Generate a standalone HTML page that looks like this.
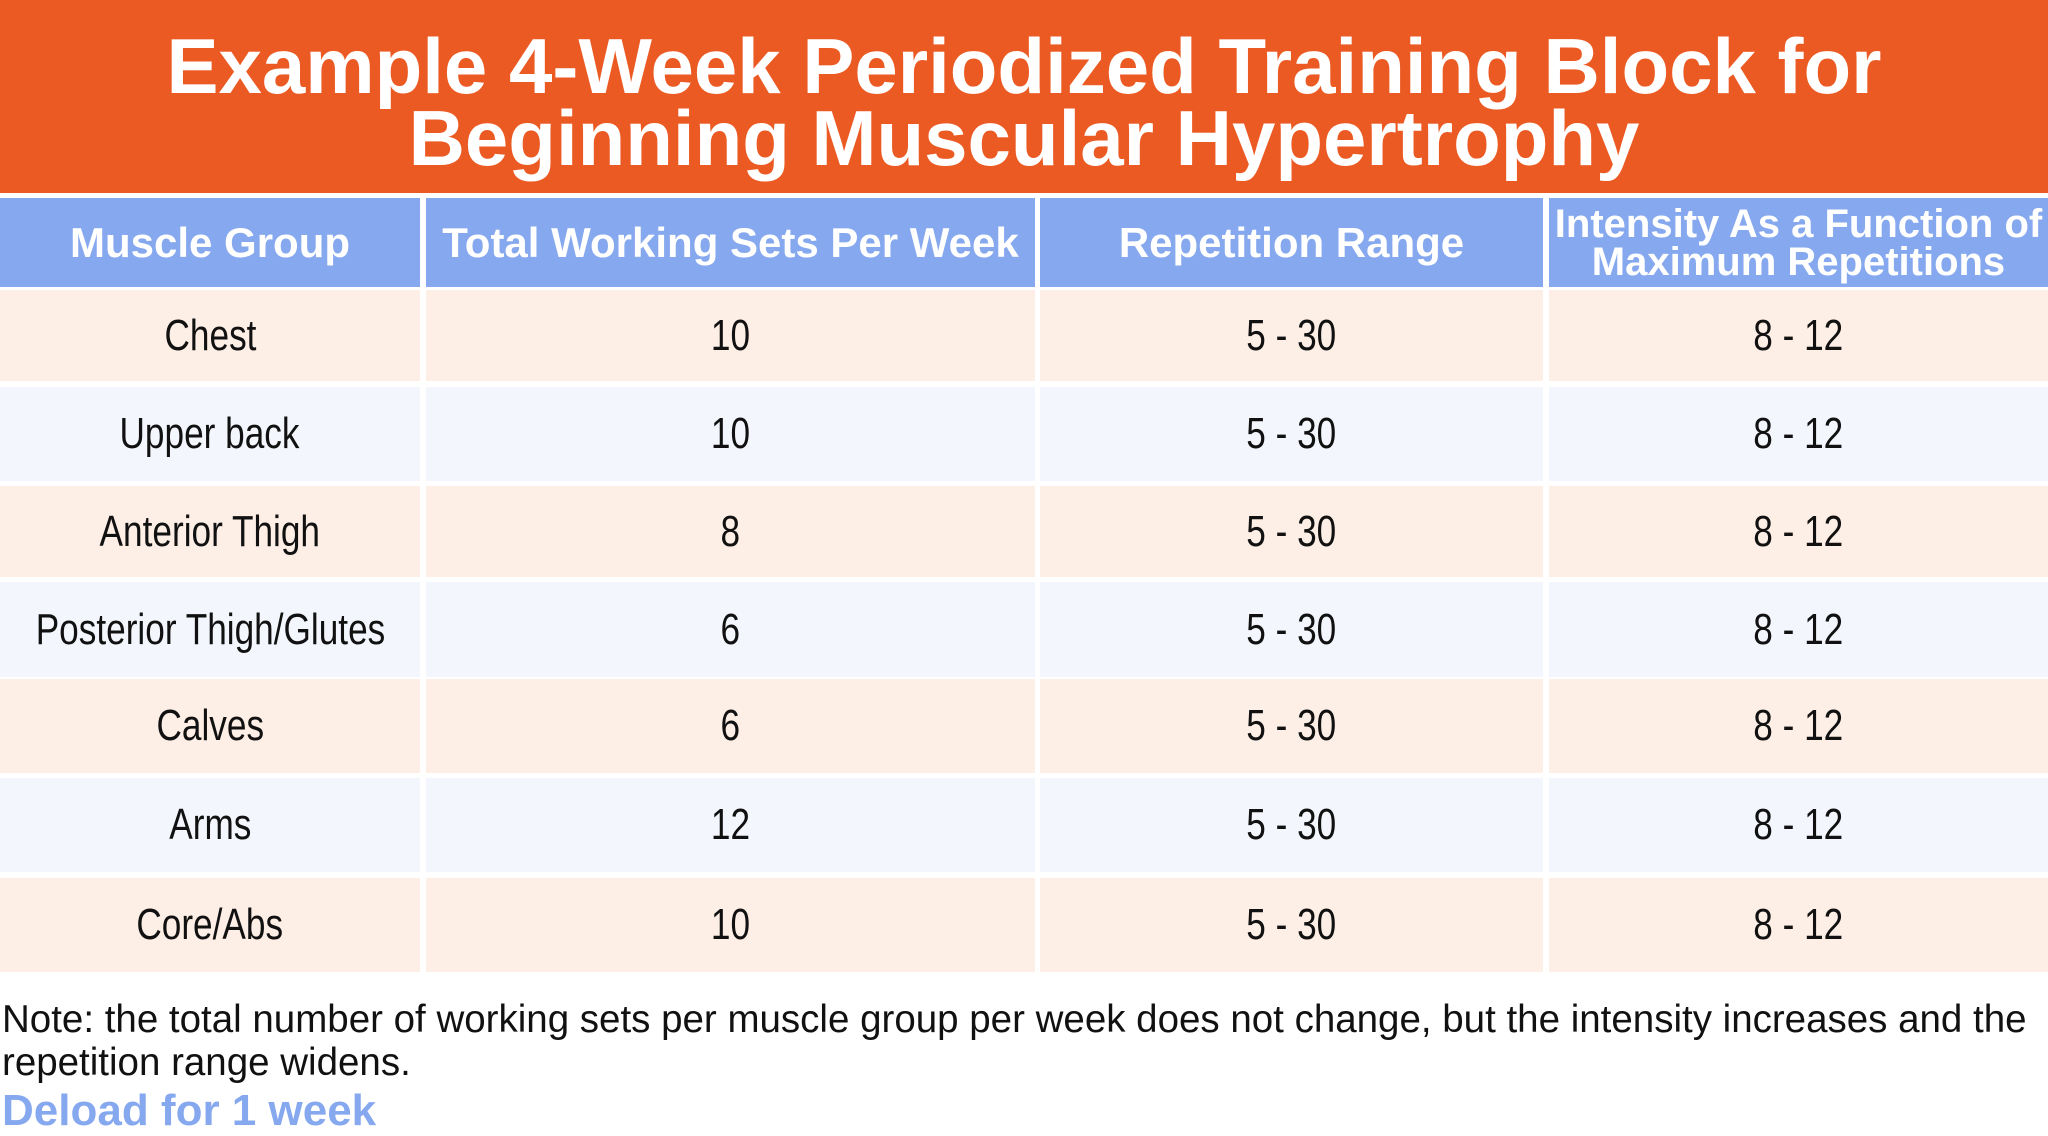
<!DOCTYPE html><html><head><style>
body{margin:0;width:2048px;height:1131px;background:#fff;overflow:hidden;font-family:"Liberation Sans",Arial,sans-serif;position:relative}
.t{position:absolute;left:0;top:0;width:2048px;height:193px;background:#EC5A24;color:#fff;font-weight:bold;font-size:78px;line-height:72px;text-align:center;padding-top:30px;box-sizing:border-box;white-space:nowrap}
.c{position:absolute;display:flex;align-items:center;justify-content:center;text-align:center;white-space:nowrap}
.h{background:#86A8EE;color:#fff;font-weight:bold;font-size:42px;line-height:39px}
.h4{font-size:40px;line-height:38px}
.r span{display:inline-block;transform:scaleX(0.8);font-size:44px;color:#111;white-space:nowrap}
.note{position:absolute;left:2px;top:998px;font-size:38.5px;line-height:43px;color:#111;width:2046px}
.dl{position:absolute;left:2px;top:1086px;font-size:44px;font-weight:bold;color:#86A8EE}
</style></head><body>
<div class="t">Example 4-Week Periodized Training Block for<br>Beginning Muscular Hypertrophy</div>
<div id="g"></div>
<div class="note">Note: the total number of working sets per muscle group per week does not change, but the intensity increases and the repetition range widens.</div>
<div class="dl">Deload for 1 week</div>
<script>
var cols=[[0,420],[426,1035],[1040,1543],[1549,2048]];
var rows=[[290,381,'#FDEEE6'],[387,481,'#F3F7FD'],[486,577,'#FDEEE6'],[582,677,'#F3F7FD'],[679,773,'#FDEEE6'],[778,872,'#F3F7FD'],[878,972,'#FDEEE6']];
var data=[['Chest','10'],['Upper back','10'],['Anterior Thigh','8'],['Posterior Thigh/Glutes','6'],['Calves','6'],['Arms','12'],['Core/Abs','10']];
var hd=['Muscle Group','Total Working Sets Per Week','Repetition Range','Intensity As a Function of<br>Maximum Repetitions'];
var s='';
cols.forEach(function(c,i){s+='<div class="c h'+(i==3?' h4':'')+'" style="left:'+c[0]+'px;width:'+(c[1]-c[0])+'px;top:198px;height:89px">'+hd[i]+'</div>';});
rows.forEach(function(r,j){var v=[data[j][0],data[j][1],'5 - 30','8 - 12'];
cols.forEach(function(c,i){s+='<div class="c r" style="background:'+r[2]+';left:'+c[0]+'px;width:'+(c[1]-c[0])+'px;top:'+r[0]+'px;height:'+(r[1]-r[0])+'px"><span>'+v[i]+'</span></div>';});});
document.getElementById('g').innerHTML=s;
</script>
</body></html>
